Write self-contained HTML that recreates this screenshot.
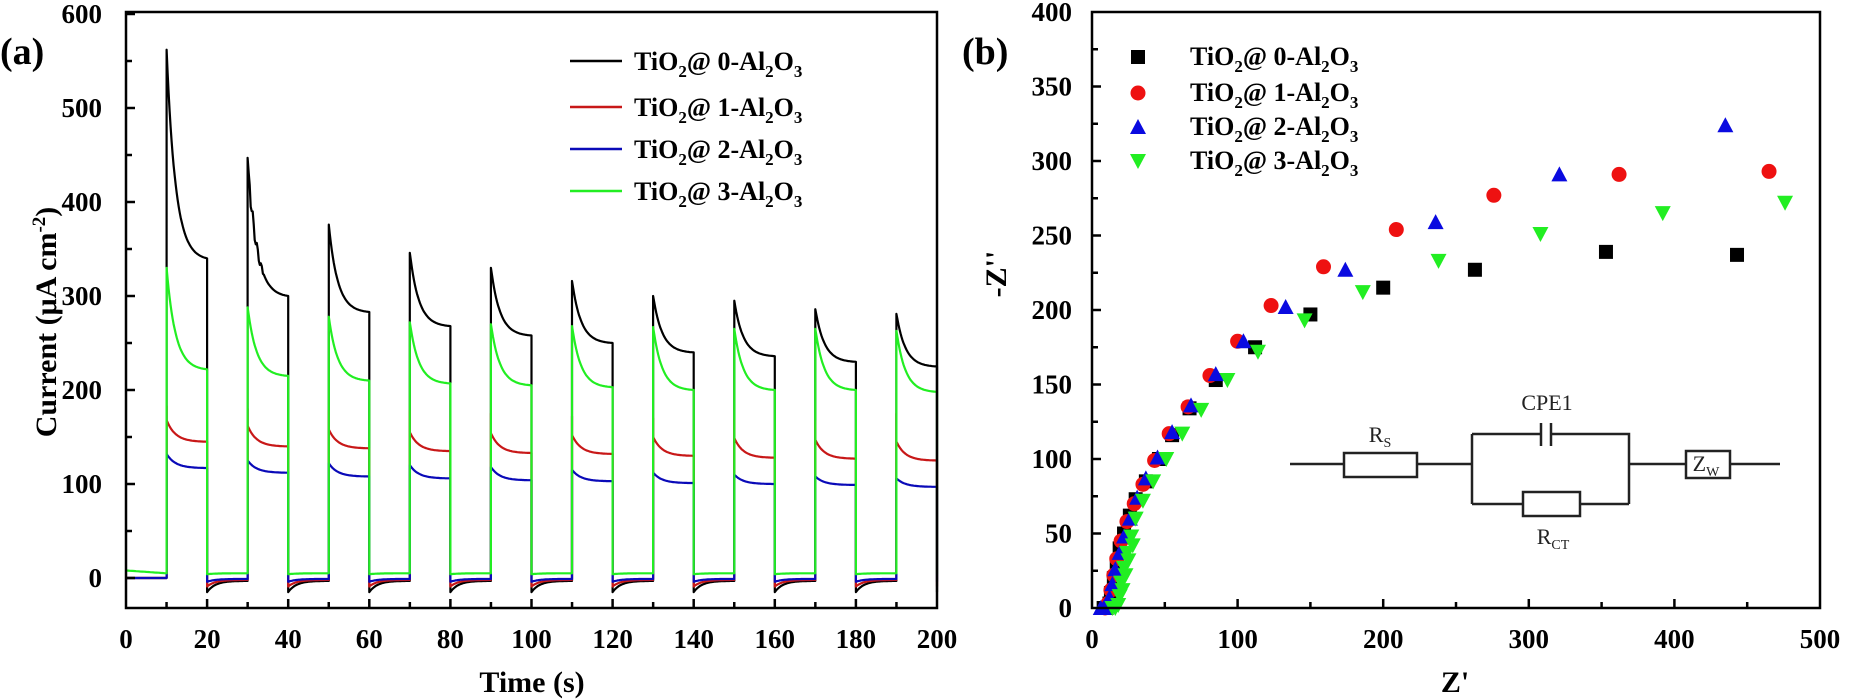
<!DOCTYPE html>
<html><head><meta charset="utf-8"><style>
html,body{margin:0;padding:0;background:#fff;}
svg{display:block;font-family:"Liberation Serif",serif;font-weight:bold;}
</style></head><body>
<svg id="s" width="1850" height="700" viewBox="0 0 1850 700" xmlns="http://www.w3.org/2000/svg">
<rect width="1850" height="700" fill="#fff"/>
<g id="a"></g>
<g id="b"></g>
<!-- panel a text -->
<text x="0" y="64" font-size="38">(a)</text>
<g id="alab" font-size="27" text-anchor="end"></g>
<g id="axlab" font-size="27" text-anchor="middle"></g>
<text x="532" y="692" font-size="30" text-anchor="middle">Time (s)</text>
<text transform="translate(56,322) rotate(-90)" font-size="30" text-anchor="middle">Current (μA cm<tspan dy="-11" font-size="19">-2</tspan><tspan dy="11">)</tspan></text>
<g font-size="26">
<text x="634" y="70">TiO<tspan dy="7" font-size="17">2</tspan><tspan dy="-7">@ 0-Al</tspan><tspan dy="7" font-size="17">2</tspan><tspan dy="-7">O</tspan><tspan dy="7" font-size="17">3</tspan></text>
<text x="634" y="116">TiO<tspan dy="7" font-size="17">2</tspan><tspan dy="-7">@ 1-Al</tspan><tspan dy="7" font-size="17">2</tspan><tspan dy="-7">O</tspan><tspan dy="7" font-size="17">3</tspan></text>
<text x="634" y="158">TiO<tspan dy="7" font-size="17">2</tspan><tspan dy="-7">@ 2-Al</tspan><tspan dy="7" font-size="17">2</tspan><tspan dy="-7">O</tspan><tspan dy="7" font-size="17">3</tspan></text>
<text x="634" y="200">TiO<tspan dy="7" font-size="17">2</tspan><tspan dy="-7">@ 3-Al</tspan><tspan dy="7" font-size="17">2</tspan><tspan dy="-7">O</tspan><tspan dy="7" font-size="17">3</tspan></text>
</g>
<g stroke-width="2.5">
<line x1="570" y1="61" x2="622" y2="61" stroke="#000"/>
<line x1="570" y1="107" x2="622" y2="107" stroke="#c81818"/>
<line x1="570" y1="149" x2="622" y2="149" stroke="#0a0ab8"/>
<line x1="570" y1="191" x2="622" y2="191" stroke="#22ee22"/>
</g>
<!-- panel b text -->
<text x="962" y="64" font-size="38">(b)</text>
<g id="blab" font-size="27" text-anchor="end"></g>
<g id="bxlab" font-size="27" text-anchor="middle"></g>
<text x="1455" y="692" font-size="30" text-anchor="middle">Z'</text>
<text transform="translate(1006,274) rotate(-90)" font-size="30" text-anchor="middle">-Z''</text>
<g font-size="26">
<text x="1190" y="65">TiO<tspan dy="7" font-size="17">2</tspan><tspan dy="-7">@ 0-Al</tspan><tspan dy="7" font-size="17">2</tspan><tspan dy="-7">O</tspan><tspan dy="7" font-size="17">3</tspan></text>
<text x="1190" y="101">TiO<tspan dy="7" font-size="17">2</tspan><tspan dy="-7">@ 1-Al</tspan><tspan dy="7" font-size="17">2</tspan><tspan dy="-7">O</tspan><tspan dy="7" font-size="17">3</tspan></text>
<text x="1190" y="135">TiO<tspan dy="7" font-size="17">2</tspan><tspan dy="-7">@ 2-Al</tspan><tspan dy="7" font-size="17">2</tspan><tspan dy="-7">O</tspan><tspan dy="7" font-size="17">3</tspan></text>
<text x="1190" y="169">TiO<tspan dy="7" font-size="17">2</tspan><tspan dy="-7">@ 3-Al</tspan><tspan dy="7" font-size="17">2</tspan><tspan dy="-7">O</tspan><tspan dy="7" font-size="17">3</tspan></text>
</g>
<!-- circuit -->
<g stroke="#222" stroke-width="2.5" fill="none">
<line x1="1290" y1="464" x2="1344" y2="464"/>
<rect x="1344" y="453" width="73" height="24" fill="#fff"/>
<line x1="1417" y1="464" x2="1472" y2="464"/>
<polyline points="1472,434 1472,504"/>
<polyline points="1472,434 1541,434"/>
<line x1="1541" y1="423" x2="1541" y2="446"/>
<line x1="1551" y1="423" x2="1551" y2="446"/>
<polyline points="1551,434 1629,434 1629,504"/>
<polyline points="1472,504 1523,504"/>
<rect x="1523" y="492" width="57" height="24" fill="#fff"/>
<polyline points="1580,504 1629,504"/>
<line x1="1629" y1="464" x2="1686" y2="464"/>
<rect x="1686" y="451" width="44" height="27" fill="#fff"/>
<line x1="1730" y1="464" x2="1780" y2="464"/>
</g>
<g font-weight="normal" font-size="22" text-anchor="middle" fill="#222">
<text x="1380" y="442">R<tspan dy="5" font-size="14">S</tspan></text>
<text x="1547" y="410">CPE1</text>
<text x="1553" y="544">R<tspan dy="5" font-size="14">CT</tspan></text>
<text x="1706" y="471">Z<tspan dy="5" font-size="14">W</tspan></text>
</g>
<rect x="126" y="12" width="811" height="596" fill="none" stroke="#000" stroke-width="2.5"/>
<rect x="1092" y="12" width="728" height="596" fill="none" stroke="#000" stroke-width="2.5"/>
<g id="ticks" stroke="#000" stroke-width="2.5"></g>
</svg>
<script>
var NS="http://www.w3.org/2000/svg";
function el(p,t,a,txt){var e=document.createElementNS(NS,t);for(var k in a)e.setAttribute(k,a[k]);if(txt!==undefined)e.textContent=txt;document.getElementById(p).appendChild(e);return e;}
var X=function(t){return 126+t*4.055},Y=function(v){return 578-v*0.94};
var XB=function(z){return 1092+z*1.456},YB=function(z){return 608-z*1.49};
// panel a ticks & labels
for(var v=-50;v<=600;v+=50){var y=Y(v);if(y>608||y<12)continue;var L=(v%100==0)?9:6;el("ticks","line",{x1:126,y1:y,x2:126+L,y2:y});
 if(v%100==0&&v>=0)el("alab","text",{x:102,y:y+9},String(v));}
for(var t=0;t<=200;t+=10){var x=X(t);var L=(t%20==0)?9:6;if(t>0&&t<200)el("ticks","line",{x1:x,y1:608,x2:x,y2:608-L});
 if(t%20==0)el("axlab","text",{x:x,y:648},String(t));}
// panel b ticks & labels
for(var v=0;v<=400;v+=25){var y=YB(v);var L=(v%50==0)?9:6;if(v>0&&v<400)el("ticks","line",{x1:1092,y1:y,x2:1092+L,y2:y});
 if(v%50==0)el("blab","text",{x:1072,y:y+9},String(v));}
for(var z=0;z<=500;z+=50){var x=XB(z);var L=(z%100==0)?9:6;if(z>0&&z<500)el("ticks","line",{x1:x,y1:608,x2:x,y2:608-L});
 if(z%100==0)el("bxlab","text",{x:x,y:648},String(z));}
// panel a data
var S=[
 {c:"#000",pk:[562,447,376,346,330,316,300,295,286,281],en:[340,300,283,268,258,250,240,236,230,225],off:[-15,-3],init:[0,0]},
 {c:"#22ee22",pk:[330,288,278,272,270,268,267,265,265,263],en:[222,215,210,207,205,203,200,200,200,198],off:[4,5],init:[8,5]},
 {c:"#c81818",pk:[168,162,158,155,154,152,150,149,147,145],en:[145,140,138,135,133,132,130,128,127,125],off:[-9,-2],init:[0,0],spike:[183,180,178,178,175,172,170,168,167,175]},
 {c:"#0a0ab8",pk:[132,125,122,120,118,115,112,110,108,106],en:[117,112,108,106,104,103,101,100,99,97],off:[-4,-1],init:[0,0]}
];
[0,2,3,1].forEach(function(i){var s=S[i];var d="M"+X(0)+","+Y(s.init[0]);
 for(var t=0;t<=10;t+=0.5)d+=" L"+X(t).toFixed(1)+","+Y(s.init[0]+(s.init[1]-s.init[0])*t/10).toFixed(1);
 for(var k=0;k<10;k++){var t0=10+20*k;var p=s.pk[k],e=s.en[k];
  if(s.spike)d+=" L"+X(t0).toFixed(1)+","+Y(s.spike[k]).toFixed(1);
  var E=Math.exp(-10/2.2);
  for(var u=0;u<=10;u+=0.25){var f=(Math.exp(-u/2.2)-E)/(1-E);var v=e+(p-e)*f;
   if(i==0&&k==1&&u>0.3&&u<4)v+=12*Math.sin(u*6)*Math.exp(-u/3);
   d+=" L"+X(t0+u).toFixed(1)+","+Y(v).toFixed(1);}
  var tend=Math.min(t0+20,200);
  for(var u=0;u<=tend-t0-10+0.001;u+=0.25){var v=s.off[1]+(s.off[0]-s.off[1])*Math.exp(-u/2);d+=" L"+X(t0+10+u).toFixed(1)+","+Y(v).toFixed(1);}
 }
 el("a","path",{d:d,fill:"none",stroke:s.c,"stroke-width":2.2,"stroke-linejoin":"round"});
});
// panel b data
var B={
k:[[443,237],[353,239],[263,227],[200,215],[150,197],[112,175],[85,153],[67,134],[55,116],[46,100],[37,85],[30,73],[26,62],[22,50],[19,40],[17,30],[15,20],[13,10],[12,3],[10,0],[8,0]],
r:[[465,293],[362,291],[276,277],[209,254],[159,229],[123,203],[100,179],[81,156],[66,135],[53,117],[43,99],[35,83],[29,70],[24,58],[20,45],[17,33],[15,22],[13,12],[11,3],[9,0]],
b:[[435,324],[321,291],[236,259],[174,227],[133,202],[104,179],[85,157],[68,136],[55,118],[45,101],[37,87],[31,74],[26,60],[22,48],[19,37],[16,26],[14,16],[12,7],[10,1],[8,0],[6,0]],
g:[[476,272],[392,265],[308,251],[238,233],[186,212],[146,193],[114,172],[93,153],[75,133],[62,117],[51,100],[42,85],[35,72],[30,60],[27,48],[24,37],[22,27],[20,17],[19,8],[18,2],[16,0],[14,0],[21,12],[23,22],[25,32],[28,42]]
};
function sq(x,y,c){el("b","rect",{x:x-7,y:y-7,width:14,height:14,fill:c});}
function ci(x,y,c){el("b","circle",{cx:x,cy:y,r:7.5,fill:c});}
function tu(x,y,c){el("b","polygon",{points:(x-8)+","+(y+7)+" "+(x+8)+","+(y+7)+" "+x+","+(y-8),fill:c});}
function td(x,y,c){el("b","polygon",{points:(x-8)+","+(y-7)+" "+(x+8)+","+(y-7)+" "+x+","+(y+8),fill:c});}
B.k.forEach(function(p){sq(XB(p[0]),YB(p[1]),"#000")});
B.r.forEach(function(p){ci(XB(p[0]),YB(p[1]),"#ee1111")});
B.b.forEach(function(p){tu(XB(p[0]),YB(p[1]),"#0a0ae0")});
B.g.forEach(function(p){td(XB(p[0]),YB(p[1]),"#22ee22")});
sq(1138,57,"#000");ci(1138,93,"#ee1111");tu(1138,127,"#0a0ae0");td(1138,161,"#22ee22");
</script>
</body></html>
